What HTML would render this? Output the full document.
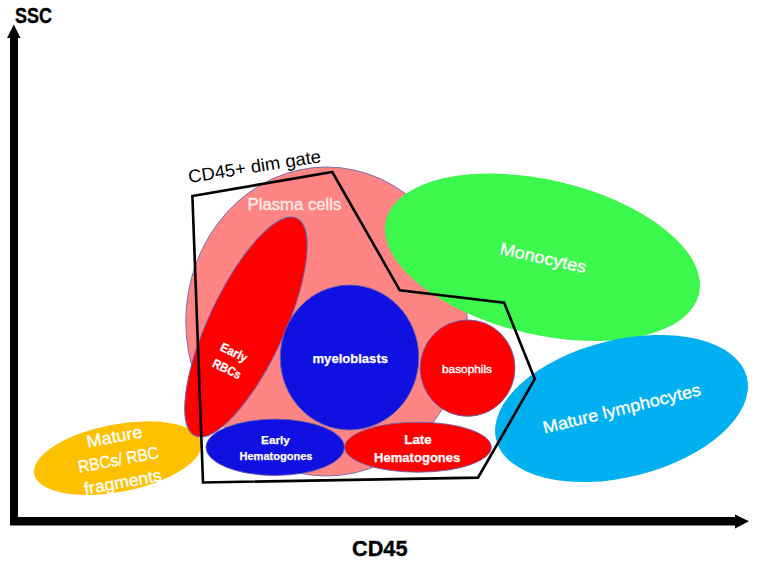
<!DOCTYPE html>
<html><head><meta charset="utf-8">
<style>
html,body{margin:0;padding:0;background:#fff;}
svg{display:block;font-family:"Liberation Sans",sans-serif;}
</style></head>
<body>
<svg width="759" height="570" viewBox="0 0 759 570">
<rect width="759" height="570" fill="#fff"/>
<!-- axes -->
<path d="M10 38 L10 525.5 L735 525.5 L735 528.5 L749 521.3 L735 514.5 L735 517 L18 517 L18 38 L20.5 38 L13.8 24.5 L7 38 Z" fill="#000"/>
<!-- pink -->
<ellipse cx="326.5" cy="321.5" rx="140.7" ry="154.5" fill="#FF8585" stroke="#6c62ac" stroke-width="0.9"/>
<!-- yellow -->
<ellipse cx="117.65" cy="458.15" rx="85" ry="33.8" fill="#FFC000" transform="rotate(-10.8 117.65 458.15)"/>
<!-- early RBC -->
<ellipse cx="245.9" cy="327" rx="37.8" ry="120" fill="#FF0000" stroke="#6c62ac" stroke-width="0.9" transform="rotate(25 245.9 327)"/>
<!-- green -->
<ellipse cx="542.5" cy="257.25" rx="160.75" ry="77.3" fill="#3CF84C" transform="rotate(13.2 542.5 257.25)"/>
<!-- light blue -->
<ellipse cx="621.5" cy="408.5" rx="129.2" ry="68.6" fill="#00B0F0" transform="rotate(-14 621.5 408.5)"/>
<!-- myeloblasts -->
<ellipse cx="349.5" cy="357.5" rx="69.3" ry="72.5" fill="#1010E0" stroke="#6c62ac" stroke-width="0.9"/>
<!-- basophils -->
<ellipse cx="467.6" cy="368.1" rx="47.4" ry="48.2" fill="#FF0000" stroke="#6c62ac" stroke-width="0.9"/>
<!-- early hematogones -->
<ellipse cx="275.2" cy="447.3" rx="69.3" ry="28.2" fill="#1010E0" stroke="#6c62ac" stroke-width="0.9"/>
<!-- late hematogones -->
<ellipse cx="418" cy="447.2" rx="73.4" ry="25" fill="#FF0000" stroke="#6c62ac" stroke-width="0.9"/>
<!-- gate polygon -->
<polygon points="192.4,196 332.3,172 399.8,290.3 504.2,302.8 534.8,379 478,477.6 203,482.5" fill="none" stroke="#000" stroke-width="2.6" stroke-linejoin="miter"/>
<!-- texts -->
<text x="15" y="22.8" font-size="22" font-weight="bold" stroke="#000" stroke-width="0.35" textLength="37" lengthAdjust="spacingAndGlyphs">SSC</text>
<text x="352" y="556.2" font-size="22.6" font-weight="bold" stroke="#000" stroke-width="0.35" textLength="55.5" lengthAdjust="spacingAndGlyphs">CD45</text>
<text font-size="18" transform="translate(189.3,183) rotate(-9)" textLength="134" lengthAdjust="spacingAndGlyphs">CD45+ dim gate</text>
<text x="247.6" y="210" font-size="16" fill="#FFECEC" stroke="#FFECEC" stroke-width="0.3" textLength="93.7" lengthAdjust="spacingAndGlyphs">Plasma cells</text>
<g fill="#fff" stroke="#fff" stroke-width="0.35">
<text font-size="17" transform="translate(499,254) rotate(12.5)" textLength="88" lengthAdjust="spacingAndGlyphs">Monocytes</text>
<text font-size="17" transform="translate(544.5,433.5) rotate(-13.8)" textLength="162" lengthAdjust="spacingAndGlyphs">Mature lymphocytes</text>
<text font-size="10" x="442" y="373" textLength="50" lengthAdjust="spacingAndGlyphs">basophils</text>
<text font-size="17" transform="translate(87.7,447.4) rotate(-10.4)" textLength="56.3" lengthAdjust="spacingAndGlyphs">Mature</text>
<text font-size="17" transform="translate(79.3,472.7) rotate(-10.4)" textLength="81.6" lengthAdjust="spacingAndGlyphs">RBCs/ RBC</text>
<text font-size="17" transform="translate(85.3,494.8) rotate(-10.4)" textLength="78.4" lengthAdjust="spacingAndGlyphs">fragments</text>
</g>
<g fill="#fff" font-weight="bold" stroke="#fff" stroke-width="0.25">
<text font-size="13.5" x="312.5" y="362.8" textLength="75.5" lengthAdjust="spacingAndGlyphs">myeloblasts</text>
<text font-size="11.8" x="275.5" y="444.2" text-anchor="middle">Early</text>
<text font-size="11.8" x="239.5" y="459.8" textLength="73" lengthAdjust="spacingAndGlyphs">Hematogones</text>
<text font-size="13.3" x="418" y="444.2" text-anchor="middle">Late</text>
<text font-size="13.3" x="374" y="461.8" textLength="86.4" lengthAdjust="spacingAndGlyphs">Hematogones</text>
<text font-size="12.6" transform="translate(219.3,350) rotate(26)" textLength="28.5" lengthAdjust="spacingAndGlyphs">Early</text>
<text font-size="12.6" transform="translate(211.6,366.3) rotate(26)" textLength="30" lengthAdjust="spacingAndGlyphs">RBCs</text>
</g>
</svg>
</body></html>
